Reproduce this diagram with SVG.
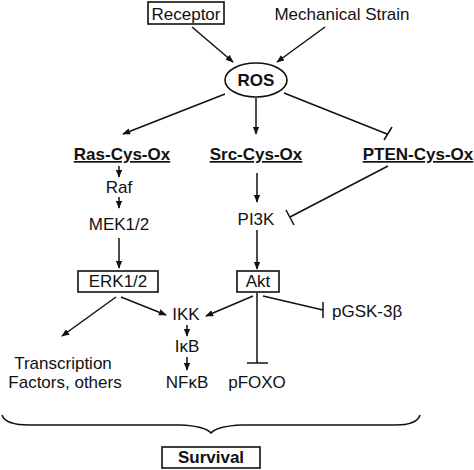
<svg xmlns="http://www.w3.org/2000/svg" width="474" height="470" viewBox="0 0 474 470">
<defs>
<style>
text{font-family:"Liberation Sans",Arial,sans-serif;font-size:17px;fill:#111;}
.b{font-weight:bold;}
.u{text-decoration:underline;}
.box{fill:#fff;stroke:#111;stroke-width:1.6;}
.ln{stroke:#111;stroke-width:1.5;fill:none;}
.ar{marker-end:url(#ah);}
</style>
<marker id="ah" viewBox="0 0 10 8" refX="9" refY="4" markerWidth="8" markerHeight="6.4" markerUnits="userSpaceOnUse" orient="auto">
<path d="M0,0 L10,4 L0,8 z" fill="#111"/>
</marker>
</defs>
<rect width="474" height="470" fill="#fff"/>
<g id="connectors">
<line class="ln ar" x1="192" y1="27" x2="233" y2="62"/>
<line class="ln ar" x1="325" y1="27" x2="277" y2="62"/>
<line class="ln ar" x1="225" y1="94" x2="123" y2="134"/>
<line class="ln ar" x1="256" y1="98" x2="256" y2="134"/>
<line class="ln" x1="284" y1="93" x2="387" y2="134"/>
<line class="ln" x1="384" y1="140" x2="392" y2="127"/>
<line class="ln ar" x1="119" y1="166" x2="119" y2="177"/>
<line class="ln ar" x1="119" y1="197" x2="119" y2="208"/>
<line class="ln ar" x1="119" y1="238" x2="119" y2="268"/>
<line class="ln ar" x1="257" y1="173" x2="257" y2="202"/>
<line class="ln ar" x1="257" y1="230" x2="257" y2="269"/>
<line class="ln" x1="388" y1="166" x2="290" y2="217"/>
<line class="ln" x1="286" y1="210" x2="294" y2="225"/>
<line class="ln ar" x1="116" y1="297" x2="62" y2="336"/>
<line class="ln ar" x1="121" y1="297" x2="166" y2="315"/>
<line class="ln ar" x1="253" y1="296" x2="206" y2="316"/>
<line class="ln" x1="257" y1="293" x2="257" y2="363"/>
<line class="ln" x1="247" y1="363" x2="268" y2="363"/>
<line class="ln" x1="263" y1="296" x2="323" y2="310"/>
<line class="ln" x1="323" y1="302" x2="323" y2="318"/>
<line class="ln ar" x1="187" y1="325" x2="187" y2="336"/>
<line class="ln ar" x1="187" y1="357" x2="187" y2="370"/>
<path class="ln" d="M2,415 Q5,425 30,425 L180,425 Q205,426 211,433 Q217,426 242,425 L395,425 Q417,425 420,415"/>
</g>
<g id="receptor"><rect class="box" x="148" y="2" width="76" height="22"/><text x="186" y="20" text-anchor="middle">Receptor</text></g>
<g id="strain"><text x="342" y="20" text-anchor="middle">Mechanical Strain</text></g>
<g id="ros"><ellipse class="box" cx="256" cy="80" rx="31" ry="17"/><text class="b" x="256" y="86" text-anchor="middle">ROS</text></g>
<g id="ras"><text class="b u" x="122" y="160" text-anchor="middle">Ras-Cys-Ox</text></g>
<g id="src"><text class="b u" x="256" y="160" text-anchor="middle">Src-Cys-Ox</text></g>
<g id="pten"><text class="b u" x="418" y="160" text-anchor="middle">PTEN-Cys-Ox</text></g>
<g id="raf"><text x="119" y="193" text-anchor="middle">Raf</text></g>
<g id="mek"><text x="119" y="230" text-anchor="middle">MEK1/2</text></g>
<g id="pi3k"><text x="256" y="225" text-anchor="middle">PI3K</text></g>
<g id="erk"><rect class="box" x="78" y="271" width="80" height="21"/><text x="118" y="287" text-anchor="middle">ERK1/2</text></g>
<g id="akt"><rect class="box" x="237" y="271" width="42" height="21"/><text x="258" y="287" text-anchor="middle">Akt</text></g>
<g id="ikk"><text x="186" y="320" text-anchor="middle">IKK</text></g>
<g id="pgsk"><text x="332" y="317">pGSK-3β</text></g>
<g id="ikb"><text x="187" y="352" text-anchor="middle">IκB</text></g>
<g id="nfkb"><text x="187" y="388" text-anchor="middle">NFκB</text></g>
<g id="pfoxo"><text x="257" y="388" text-anchor="middle">pFOXO</text></g>
<g id="tf"><text x="63" y="369" text-anchor="middle">Transcription</text><text x="65" y="388" text-anchor="middle">Factors, others</text></g>
<g id="survival"><rect class="box" x="162" y="447" width="98" height="21"/><text class="b" x="211" y="463" text-anchor="middle">Survival</text></g>
</svg>
